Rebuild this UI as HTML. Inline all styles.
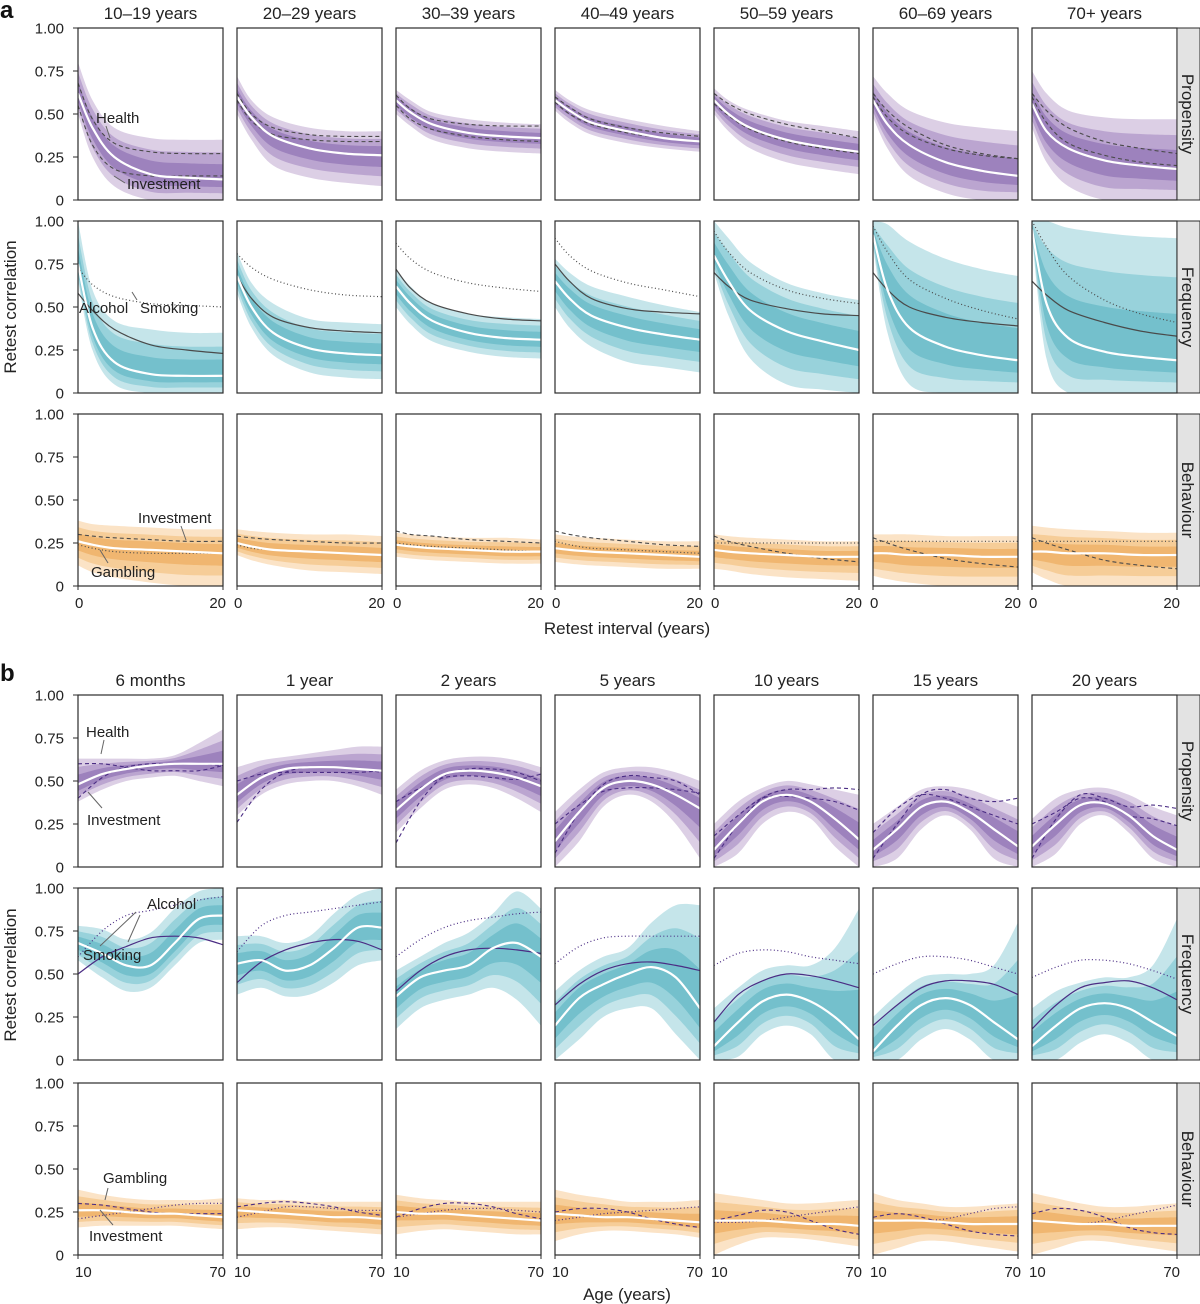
<!DOCTYPE html>
<html><head><meta charset="utf-8">
<style>
body{margin:0;background:#fff;}
svg{display:block;font-family:"Liberation Sans",sans-serif;}
</style></head>
<body>
<svg id="chart" width="1200" height="1304" viewBox="0 0 1200 1304" xmlns="http://www.w3.org/2000/svg"></svg>
<script>
// ---- Data ----
const intervalX = [0, 2, 5, 10, 15, 20];
const ageX = [10, 20, 30, 40, 50, 60, 70];
const ageGroups = ["10–19 years","20–29 years","30–39 years","40–49 years","50–59 years","60–69 years","70+ years"];
const intervals = ["6 months","1 year","2 years","5 years","10 years","15 years","20 years"];
const rowLabels = ["Propensity","Frequency","Behaviour"];
const yTicks = [0, 0.25, 0.5, 0.75, 1];
const yTickLabels = ["0","0.25","0.50","0.75","1.00"];

// Panel a — Propensity
const aPropMed = [[0.62,0.42,0.25,0.15,0.13,0.12],[0.60,0.48,0.37,0.30,0.27,0.26],[0.58,0.51,0.44,0.39,0.37,0.36],[0.58,0.52,0.45,0.40,0.36,0.34],[0.58,0.50,0.42,0.35,0.31,0.28],[0.58,0.44,0.32,0.22,0.17,0.14],[0.56,0.40,0.30,0.23,0.20,0.18]];
const aPropLo = [[0.50,0.25,0.08,0,0,0],[0.50,0.35,0.20,0.13,0.10,0.08],[0.50,0.43,0.35,0.30,0.28,0.27],[0.52,0.45,0.38,0.33,0.30,0.28],[0.50,0.40,0.30,0.22,0.18,0.15],[0.48,0.30,0.14,0.04,0,0],[0.42,0.22,0.08,0,0,0]];
const aPropHi = [[0.80,0.58,0.42,0.36,0.35,0.35],[0.72,0.58,0.48,0.42,0.40,0.40],[0.64,0.58,0.51,0.47,0.45,0.44],[0.64,0.58,0.52,0.47,0.43,0.40],[0.65,0.58,0.52,0.46,0.43,0.40],[0.72,0.62,0.52,0.45,0.42,0.40],[0.75,0.62,0.52,0.48,0.47,0.47]];
const aPropHealth = [[0.68,0.47,0.33,0.28,0.27,0.27],[0.62,0.50,0.42,0.38,0.37,0.37],[0.61,0.53,0.47,0.44,0.43,0.43],[0.60,0.54,0.47,0.42,0.39,0.37],[0.62,0.56,0.50,0.44,0.40,0.36],[0.62,0.52,0.42,0.32,0.27,0.24],[0.62,0.52,0.42,0.34,0.30,0.27]];
const aPropInvest = [[0.55,0.32,0.18,0.14,0.14,0.14],[0.58,0.46,0.38,0.35,0.34,0.34],[0.55,0.47,0.41,0.37,0.35,0.34],[0.57,0.50,0.44,0.39,0.36,0.34],[0.56,0.49,0.41,0.34,0.30,0.27],[0.60,0.48,0.38,0.30,0.26,0.24],[0.60,0.45,0.33,0.26,0.22,0.20]];
// Panel a — Frequency
const aFreqMed = [[0.75,0.38,0.18,0.11,0.10,0.10],[0.68,0.50,0.35,0.26,0.23,0.22],[0.62,0.52,0.42,0.35,0.32,0.31],[0.65,0.55,0.45,0.38,0.34,0.31],[0.80,0.65,0.48,0.36,0.30,0.25],[0.92,0.60,0.38,0.27,0.22,0.19],[0.95,0.52,0.32,0.24,0.21,0.19]];
const aFreqLo = [[0.65,0.25,0.05,0,0,0],[0.58,0.38,0.22,0.12,0.09,0.08],[0.50,0.40,0.30,0.24,0.21,0.20],[0.50,0.38,0.27,0.18,0.15,0.12],[0.70,0.45,0.20,0.05,0.02,0],[0.85,0.35,0.05,0,0,0],[0.90,0.20,0,0,0,0]];
const aFreqHi = [[1,0.60,0.42,0.37,0.35,0.35],[0.82,0.64,0.52,0.43,0.41,0.40],[0.72,0.62,0.52,0.46,0.44,0.43],[0.78,0.70,0.62,0.56,0.51,0.47],[1,0.90,0.76,0.64,0.58,0.54],[1,0.98,0.88,0.78,0.72,0.68],[1,1,0.96,0.93,0.91,0.90]];
const aFreqAlcohol = [[0.73,0.63,0.56,0.52,0.51,0.50],[0.81,0.73,0.66,0.60,0.57,0.56],[0.87,0.78,0.70,0.64,0.61,0.59],[0.90,0.80,0.71,0.64,0.60,0.56],[0.94,0.82,0.70,0.60,0.55,0.52],[0.97,0.82,0.66,0.55,0.48,0.43],[1,0.85,0.68,0.54,0.46,0.41]];
const aFreqSmoking = [[0.58,0.48,0.37,0.28,0.25,0.23],[0.68,0.55,0.44,0.38,0.36,0.35],[0.72,0.61,0.52,0.46,0.43,0.42],[0.75,0.65,0.55,0.49,0.47,0.46],[0.70,0.62,0.54,0.49,0.46,0.45],[0.70,0.60,0.50,0.44,0.41,0.39],[0.65,0.57,0.48,0.41,0.36,0.33]];
// Panel a — Behaviour
const aBehMed = [[0.26,0.24,0.22,0.21,0.20,0.19],[0.25,0.23,0.21,0.20,0.19,0.18],[0.24,0.23,0.22,0.21,0.20,0.20],[0.22,0.21,0.20,0.19,0.18,0.17],[0.21,0.20,0.19,0.18,0.17,0.17],[0.19,0.19,0.18,0.18,0.17,0.17],[0.20,0.20,0.19,0.19,0.18,0.18]];
const aBehLo = [[0.12,0.08,0.05,0.02,0,0],[0.18,0.15,0.12,0.09,0.08,0.07],[0.17,0.16,0.15,0.14,0.13,0.13],[0.14,0.13,0.12,0.11,0.10,0.10],[0.10,0.09,0.07,0.05,0.04,0.03],[0.06,0.04,0.02,0,0,0],[0.08,0.04,0,0,0,0]];
const aBehHi = [[0.38,0.36,0.35,0.34,0.33,0.33],[0.33,0.32,0.31,0.30,0.30,0.29],[0.31,0.30,0.29,0.28,0.28,0.27],[0.30,0.29,0.28,0.27,0.26,0.26],[0.30,0.29,0.28,0.27,0.26,0.26],[0.30,0.30,0.30,0.29,0.29,0.29],[0.35,0.34,0.33,0.32,0.31,0.31]];
const aBehInvest = [[0.30,0.29,0.28,0.27,0.26,0.26],[0.29,0.28,0.27,0.26,0.25,0.25],[0.32,0.30,0.29,0.27,0.26,0.25],[0.32,0.30,0.28,0.26,0.24,0.23],[0.29,0.26,0.23,0.19,0.16,0.14],[0.28,0.25,0.21,0.16,0.13,0.11],[0.28,0.25,0.21,0.15,0.12,0.10]];
const aBehGamb = [[0.24,0.22,0.20,0.19,0.19,0.19],[0.24,0.22,0.21,0.20,0.19,0.18],[0.25,0.24,0.23,0.22,0.21,0.20],[0.26,0.24,0.22,0.21,0.20,0.19],[0.25,0.25,0.25,0.25,0.25,0.25],[0.26,0.26,0.26,0.26,0.26,0.26],[0.26,0.26,0.26,0.26,0.26,0.26]];

// Panel b — Propensity
const bPropMed = [[0.48,0.54,0.57,0.59,0.60,0.60,0.60],[0.42,0.52,0.57,0.58,0.58,0.57,0.56],[0.33,0.45,0.54,0.56,0.55,0.52,0.47],[0.15,0.32,0.46,0.50,0.48,0.42,0.34],[0.10,0.25,0.38,0.42,0.38,0.28,0.16],[0.10,0.22,0.35,0.38,0.32,0.22,0.12],[0.12,0.25,0.36,0.37,0.30,0.18,0.10]];
const bPropLo = [[0.38,0.45,0.50,0.52,0.53,0.50,0.47],[0.30,0.42,0.48,0.50,0.50,0.47,0.42],[0.20,0.34,0.45,0.48,0.46,0.40,0.32],[0,0.15,0.35,0.42,0.38,0.25,0.05],[0,0.08,0.25,0.32,0.28,0.12,0],[0,0.05,0.22,0.30,0.22,0.05,0],[0,0.08,0.25,0.30,0.20,0.05,0]];
const bPropHi = [[0.63,0.63,0.63,0.63,0.65,0.72,0.80],[0.58,0.62,0.64,0.66,0.68,0.70,0.70],[0.45,0.56,0.62,0.64,0.64,0.62,0.58],[0.32,0.45,0.55,0.58,0.58,0.55,0.50],[0.25,0.38,0.46,0.50,0.48,0.45,0.42],[0.25,0.35,0.45,0.47,0.45,0.40,0.35],[0.28,0.40,0.45,0.46,0.42,0.35,0.30]];
const bPropHealth = [[0.60,0.60,0.58,0.56,0.56,0.56,0.59],[0.50,0.54,0.55,0.55,0.55,0.55,0.56],[0.38,0.46,0.52,0.53,0.52,0.51,0.54],[0.25,0.36,0.44,0.46,0.46,0.45,0.43],[0.18,0.30,0.40,0.41,0.40,0.38,0.33],[0.20,0.34,0.42,0.40,0.35,0.30,0.25],[0.25,0.32,0.40,0.38,0.30,0.28,0.24]];
const bPropInvest = [[0.40,0.52,0.58,0.60,0.60,0.60,0.59],[0.26,0.45,0.55,0.58,0.58,0.57,0.55],[0.14,0.38,0.53,0.57,0.57,0.55,0.50],[0.08,0.32,0.48,0.53,0.52,0.50,0.42],[0.05,0.25,0.40,0.45,0.45,0.46,0.45],[0.05,0.25,0.42,0.45,0.40,0.38,0.40],[0.05,0.28,0.42,0.40,0.35,0.36,0.34]];
// Panel b — Frequency
const bFreqMed = [[0.68,0.62,0.55,0.55,0.68,0.82,0.84],[0.56,0.58,0.52,0.55,0.65,0.77,0.77],[0.37,0.48,0.52,0.55,0.65,0.68,0.60],[0.20,0.36,0.44,0.50,0.54,0.48,0.30],[0.08,0.22,0.34,0.38,0.34,0.25,0.12],[0.05,0.20,0.32,0.36,0.32,0.22,0.12],[0.08,0.20,0.30,0.33,0.30,0.22,0.14]];
const bFreqLo = [[0.58,0.48,0.40,0.42,0.55,0.68,0.70],[0.38,0.42,0.37,0.38,0.45,0.55,0.58],[0.18,0.30,0.35,0.38,0.42,0.35,0.20],[0,0.12,0.25,0.30,0.30,0.15,0],[0,0.02,0.15,0.20,0.15,0,0],[0,0,0.12,0.18,0.12,0,0],[0,0,0.10,0.15,0.10,0,0]];
const bFreqHi = [[0.78,0.76,0.70,0.74,0.88,0.98,1],[0.72,0.72,0.68,0.72,0.85,0.96,1],[0.52,0.60,0.68,0.74,0.85,0.98,0.88],[0.40,0.52,0.60,0.65,0.80,0.90,0.90],[0.30,0.42,0.52,0.55,0.55,0.65,0.88],[0.25,0.38,0.48,0.50,0.50,0.55,0.80],[0.30,0.40,0.45,0.48,0.48,0.55,0.82]];
const bFreqAlcohol = [[0.60,0.75,0.84,0.87,0.90,0.93,0.95],[0.63,0.78,0.84,0.86,0.88,0.90,0.92],[0.60,0.70,0.77,0.81,0.83,0.85,0.86],[0.56,0.66,0.71,0.72,0.72,0.72,0.72],[0.55,0.62,0.64,0.63,0.60,0.58,0.56],[0.50,0.56,0.60,0.60,0.58,0.54,0.50],[0.48,0.54,0.58,0.58,0.56,0.52,0.47]];
const bFreqSmoking = [[0.50,0.60,0.66,0.71,0.72,0.71,0.67],[0.45,0.57,0.64,0.68,0.70,0.69,0.64],[0.40,0.52,0.60,0.64,0.65,0.64,0.62],[0.32,0.44,0.52,0.56,0.57,0.55,0.52],[0.22,0.38,0.46,0.50,0.49,0.46,0.42],[0.20,0.32,0.42,0.46,0.46,0.44,0.38],[0.18,0.32,0.42,0.45,0.46,0.42,0.35]];
// Panel b — Behaviour
const bBehMed = [[0.26,0.26,0.25,0.24,0.24,0.23,0.22],[0.26,0.25,0.24,0.23,0.22,0.22,0.21],[0.25,0.24,0.24,0.23,0.22,0.21,0.20],[0.24,0.23,0.22,0.22,0.21,0.20,0.19],[0.20,0.20,0.20,0.19,0.18,0.18,0.17],[0.20,0.20,0.20,0.19,0.18,0.18,0.18],[0.20,0.19,0.18,0.18,0.17,0.17,0.17]];
const bBehLo = [[0.16,0.17,0.17,0.17,0.17,0.16,0.15],[0.15,0.16,0.16,0.15,0.14,0.13,0.12],[0.12,0.14,0.15,0.14,0.13,0.12,0.12],[0.08,0.12,0.14,0.14,0.13,0.12,0.10],[0,0.06,0.10,0.10,0.09,0.07,0.05],[0,0.04,0.08,0.08,0.06,0.04,0.02],[0,0.04,0.08,0.08,0.06,0.04,0.02]];
const bBehHi = [[0.38,0.35,0.33,0.32,0.32,0.32,0.33],[0.33,0.32,0.32,0.31,0.31,0.31,0.31],[0.35,0.33,0.32,0.31,0.31,0.31,0.31],[0.38,0.35,0.33,0.31,0.31,0.31,0.32],[0.36,0.34,0.32,0.30,0.30,0.31,0.32],[0.36,0.32,0.30,0.28,0.28,0.29,0.30],[0.36,0.33,0.30,0.28,0.28,0.29,0.30]];
const bBehInvest = [[0.30,0.29,0.27,0.25,0.24,0.24,0.24],[0.28,0.30,0.31,0.30,0.28,0.25,0.23],[0.22,0.27,0.30,0.30,0.28,0.24,0.21],[0.25,0.27,0.27,0.25,0.21,0.18,0.16],[0.20,0.23,0.26,0.25,0.20,0.15,0.12],[0.22,0.24,0.22,0.18,0.14,0.12,0.11],[0.24,0.27,0.26,0.22,0.16,0.13,0.12]];
const bBehGamb = [[0.21,0.23,0.25,0.27,0.29,0.30,0.30],[0.22,0.25,0.28,0.28,0.27,0.26,0.26],[0.22,0.24,0.26,0.27,0.27,0.26,0.25],[0.20,0.22,0.24,0.25,0.26,0.27,0.28],[0.19,0.19,0.20,0.22,0.24,0.26,0.28],[0.20,0.20,0.20,0.21,0.24,0.27,0.28],[0.20,0.19,0.18,0.20,0.23,0.26,0.29]];

// ---- Layout ----
const NS = "http://www.w3.org/2000/svg";
const svg = document.getElementById("chart");
const colLeft = [78,237,396,555,714,873,1032];
const PW = 145, PH = 172;
const aTops = [28,221,414], bTops = [695,888,1083];
const palettes = [
  ["#dccfe5","#bba5d0","#9d82bd"],
  ["#c5e5ea","#98d2db","#74c0cc"],
  ["#fbe3c6","#f6cd98","#f0b670"]
];

function el(tag, attrs, parent){
  const e = document.createElementNS(NS, tag);
  for (const k in attrs) e.setAttribute(k, attrs[k]);
  (parent||svg).appendChild(e);
  return e;
}
function txt(s, attrs, parent){ const t = el("text", attrs, parent); t.textContent = s; return t; }

function spline(pts){
  let d = "M" + pts[0][0].toFixed(1) + "," + pts[0][1].toFixed(1);
  for (let i=0;i<pts.length-1;i++){
    const p0 = pts[Math.max(0,i-1)], p1 = pts[i], p2 = pts[i+1], p3 = pts[Math.min(pts.length-1,i+2)];
    const c1x = p1[0]+(p2[0]-p0[0])/6, c1y = p1[1]+(p2[1]-p0[1])/6;
    const c2x = p2[0]-(p3[0]-p1[0])/6, c2y = p2[1]-(p3[1]-p1[1])/6;
    d += " C"+c1x.toFixed(1)+","+c1y.toFixed(1)+" "+c2x.toFixed(1)+","+c2y.toFixed(1)+" "+p2[0].toFixed(1)+","+p2[1].toFixed(1);
  }
  return d;
}
function splineRev(pts){ return spline(pts.slice().reverse()).replace(/^M/," L"); }

let clipId = 0;
function drawPanel(left, top, xs, xmin, xmax, med, lo, hi, refA, refB, pal, styleA, styleB, name){
  const g = el("g", {});
  
  
  const xScale = v => left + (v - xmin)/(xmax - xmin)*PW;
  const yScale = v => top + PH - Math.max(-0.02, Math.min(1.02, v))*PH;
  const id = "clip"+(clipId++);
  const cp = el("clipPath", {id}, g);
  el("rect", {x:left, y:top, width:PW, height:PH}, cp);
  const inner = el("g", {"clip-path":"url(#"+id+")"}, g);
  const fracs = [1, 0.68, 0.38];
  fracs.forEach((f, k) => {
    const up = xs.map((x,i)=>[xScale(x), yScale(med[i] + f*(hi[i]-med[i]))]);
    const dn = xs.map((x,i)=>[xScale(x), yScale(med[i] - f*(med[i]-lo[i]))]);
    const p = el("path", {d: spline(up) + splineRev(dn) + " Z", fill: pal[k]}, inner);
    
    
  });
  [[refA, styleA, 'reference-line-a'], [refB, styleB, 'reference-line-b']].forEach(([arr, st, nm]) => {
    const p = el("path", Object.assign({d: spline(xs.map((x,i)=>[xScale(x), yScale(arr[i])])), fill:"none"}, st), inner);
    
    
  });
  const m = el("path", {d: spline(xs.map((x,i)=>[xScale(x), yScale(med[i])])), fill:"none", stroke:"#fff", "stroke-width":2.2}, inner);
  
  
  const fr = el("rect", {x:left, y:top, width:PW, height:PH, fill:"none", stroke:"#2b2b2b", "stroke-width":1.2}, g);
  
  
}

const gray = "#4a4a4a", purp = "#4b2d84";
const dashG = {stroke:gray, "stroke-width":1.1, "stroke-dasharray":"4,3"};
const dotG = {stroke:gray, "stroke-width":1.2, "stroke-dasharray":"1,2.5"};
const solidG = {stroke:gray, "stroke-width":1.2};
const dashP = {stroke:purp, "stroke-width":1.1, "stroke-dasharray":"4,3"};
const dotP = {stroke:purp, "stroke-width":1.2, "stroke-dasharray":"1,2.5"};
const solidP = {stroke:purp, "stroke-width":1.2};

const aSets = [
  [aPropMed,aPropLo,aPropHi,aPropHealth,aPropInvest,dashG,dashG],
  [aFreqMed,aFreqLo,aFreqHi,aFreqAlcohol,aFreqSmoking,dotG,solidG],
  [aBehMed,aBehLo,aBehHi,aBehInvest,aBehGamb,dashG,dotG]
];
const bSets = [
  [bPropMed,bPropLo,bPropHi,bPropHealth,bPropInvest,dashP,dashP],
  [bFreqMed,bFreqLo,bFreqHi,bFreqAlcohol,bFreqSmoking,dotP,solidP],
  [bBehMed,bBehLo,bBehHi,bBehInvest,bBehGamb,dashP,dotP]
];

function drawBlock(tops, sets, xs, xmin, xmax, titles, xTickLabels, prefix){
  for (let r=0;r<3;r++){
    for (let c=0;c<7;c++){
      const s = sets[r];
      drawPanel(colLeft[c], tops[r], xs, xmin, xmax, s[0][c], s[1][c], s[2][c], s[3][c], s[4][c], palettes[r], s[5], s[6], prefix+"-"+rowLabels[r].toLowerCase()+"-panel-"+(c+1));
    }
    yTicks.forEach((v,i)=>{
      const y = tops[r] + PH - v*PH;
      el("line",{x1:73,x2:78,y1:y,y2:y,stroke:"#2b2b2b","stroke-width":1});
      const t = txt(yTickLabels[i], {x:64, y:y+5.5, "text-anchor":"end", "font-size":15, fill:"#222"});
      
      
    });
    const sx = colLeft[6]+PW, sy = tops[r];
    const st = el("rect",{x:sx, y:sy, width:23, height:PH, fill:"#e3e3e3", stroke:"#2b2b2b","stroke-width":1});
    
    
    const lt = txt(rowLabels[r], {x:sx+5, y:sy+PH/2, "text-anchor":"middle", "font-size":17, fill:"#222", transform:"rotate(90 "+(sx+5)+" "+(sy+PH/2)+")"});
    
    
  }
  for (let c=0;c<7;c++){
    const t = txt(titles[c], {x:colLeft[c]+PW/2, y:tops[0]-9, "text-anchor":"middle", "font-size":17, fill:"#222"});
    
    
    const by = tops[2]+PH;
    [[xmin,xTickLabels[0],"start",-3],[xmax,xTickLabels[1],"end",3]].forEach(([v,lab,anc,off])=>{
      const x = colLeft[c] + (v-xmin)/(xmax-xmin)*PW;
      el("line",{x1:x,x2:x,y1:by,y2:by+4,stroke:"#2b2b2b","stroke-width":1});
      const tl = txt(lab,{x:x+off, y:by+22, "text-anchor":anc,"font-size":15, fill:"#222"});
      
      
    });
  }
}
drawBlock(aTops, aSets, intervalX, 0, 20, ageGroups, ["0","20"], "a");
drawBlock(bTops, bSets, ageX, 10, 70, intervals, ["10","70"], "b");

function label(s, attrs, name){ const t = txt(s, attrs);   return t; }
label("a", {x:0, y:18, "font-size":24, "font-weight":"bold", fill:"#111"}, "panel-label-a");
label("b", {x:0, y:681, "font-size":24, "font-weight":"bold", fill:"#111"}, "panel-label-b");
label("Retest interval (years)", {x:627, y:634, "text-anchor":"middle", "font-size":17, fill:"#222"}, "x-axis-title-a");
label("Age (years)", {x:627, y:1300, "text-anchor":"middle", "font-size":17, fill:"#222"}, "x-axis-title-b");
label("Retest correlation", {x:16, y:307, "text-anchor":"middle", "font-size":17, fill:"#222", transform:"rotate(-90 16 307)"}, "y-axis-title-a");
label("Retest correlation", {x:16, y:975, "text-anchor":"middle", "font-size":17, fill:"#222", transform:"rotate(-90 16 975)"}, "y-axis-title-b");

const ann = [
  ["Health",96,123,[[106,126],[110,138]]],
  ["Investment",127,189,[[125,183],[114,176]]],
  ["Alcohol",79,313,[]],
  ["Smoking",140,313,[[137,300],[132,292]]],
  ["Investment",138,523,[[181,526],[186,540]]],
  ["Gambling",91,577,[[108,563],[100,550]]],
  ["Health",86,737,[[104,740],[101,754]]],
  ["Investment",87,825,[[102,808],[88,792]]],
  ["Alcohol",147,909,[[140,915],[128,942]]],
  ["Smoking",83,960,[[100,946],[136,912]]],
  ["Gambling",103,1183,[[108,1188],[105,1200]]],
  ["Investment",89,1241,[[113,1225],[100,1210]]]
];
ann.forEach(a=>{
  if (a[3].length) el("line",{x1:a[3][0][0],y1:a[3][0][1],x2:a[3][1][0],y2:a[3][1][1],stroke:"#666","stroke-width":1});
  label(a[0], {x:a[1], y:a[2], "font-size":15, fill:"#222"}, "series-annotation");
});
</script>
</body></html>
